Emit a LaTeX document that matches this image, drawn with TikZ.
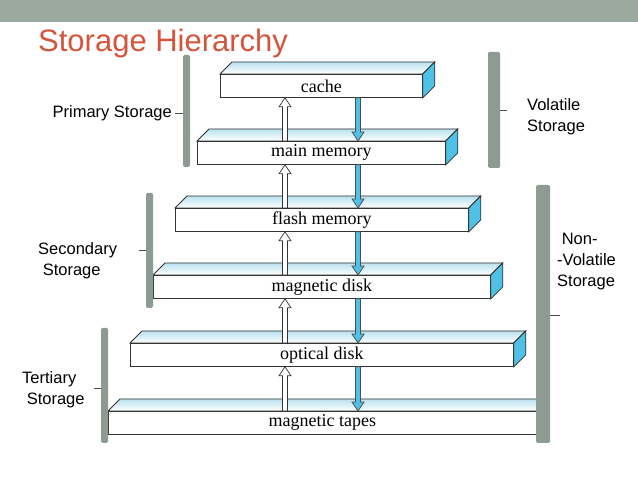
\documentclass[tikz,border=0pt]{standalone}
\usepackage{fontspec}
\setmainfont{Liberation Serif}
\newfontfamily\lab{Liberation Sans}
\usetikzlibrary{calc}
\definecolor{band}{HTML}{9AAA9F}
\definecolor{bar}{HTML}{8E9B92}
\definecolor{ttl}{HTML}{D5553B}
\definecolor{side}{HTML}{4FC0E6}
\definecolor{topc}{HTML}{B9E1EF}
\tikzset{
 box/.style={draw=black!80,fill=white,line width=0.8pt,inner sep=0pt,minimum height=23pt,font=\fontsize{18}{20}\selectfont},
 gbar/.style={fill=bar,draw=none,rounded corners=1.5pt},
 tick/.style={draw=black!70,line width=0.6pt},
 lbl/.style={font=\lab\fontsize{16.5}{21}\selectfont,align=left,inner sep=0pt},
 uparr/.style={draw=black!80,fill=white,line width=0.7pt},
 dnarr/.style={draw=black!70,fill=side,line width=0.7pt}
}
\newcommand\tierbox[5]{%
 \node[box,minimum width={(#3-#2)*1pt},anchor=north west] (#1) at (#2,#4) {#5};
 \shade[top color=topc,bottom color=white,draw=black!80,line width=0.8pt] (#1.north west) -- ++(12pt,12pt) -- ($(#1.north east)+(12pt,12pt)$) -- (#1.north east) -- cycle;
 \fill[side,draw=black!80,line width=0.8pt] (#1.north east) -- ++(12pt,12pt) -- ($(#1.south east)+(12pt,12pt)$) -- (#1.south east) -- cycle;
}
\newcommand\myuparr[2]{%
 \path[uparr] ($(#1)+(-2.5pt,0)$) -- ($(#2)+(-2.5pt,-9pt)$) -- ($(#2)+(-6pt,-9pt)$) -- (#2) -- ($(#2)+(6pt,-9pt)$) -- ($(#2)+(2.5pt,-9pt)$) -- ($(#1)+(2.5pt,0)$) -- cycle;}
\newcommand\mydnarr[2]{%
 \path[dnarr] ($(#1)+(-2.5pt,0)$) -- ($(#2)+(-2.5pt,9pt)$) -- ($(#2)+(-6pt,9pt)$) -- (#2) -- ($(#2)+(6pt,9pt)$) -- ($(#2)+(2.5pt,9pt)$) -- ($(#1)+(2.5pt,0)$) -- cycle;}
\begin{document}
\begin{tikzpicture}[x=1pt,y=-1pt]
\useasboundingbox (0,0) rectangle (638,478);
\fill[white] (0,0) rectangle (638,478);
\fill[band] (0,0) rectangle (638,22);
\node[anchor=base west,inner sep=0pt,text=ttl,font=\lab\fontsize{31}{34}\selectfont] (title) at (38,52) {Storage Hierarchy};
\coordinate (xu) at (285,0);
\coordinate (xd) at (358,0);
\tierbox{tapes}{108}{536}{411}{magnetic tapes}
\tierbox{optical}{130}{513}{343}{optical disk}
\tierbox{mdisk}{153}{490}{275}{magnetic disk}
\tierbox{flash}{175}{468}{208}{flash memory}
\tierbox{main}{197}{445}{141}{main memory}
\tierbox{cache}{220}{422}{74}{cache}
\foreach \lo/\hi in {main/cache,flash/main,mdisk/flash,optical/mdisk,tapes/optical}{
 \myuparr{\lo.north -| xu}{\hi.south -| xu}
 \mydnarr{\hi.south -| xd}{\lo.north -| xd}
}
% brackets
\fill[gbar] (183,55) rectangle (190,167);
\coordinate (tp) at (175,113); \draw[tick] (tp) -- (183,113);
\node[lbl,anchor=east] (prim) at (172,113) {Primary Storage};
\fill[gbar] (488,52) rectangle (500,168);
\coordinate (tv) at (507,110); \draw[tick] (500,110) -- (tv);
\node[lbl,anchor=west] (vol) at (527,117) {Volatile\\Storage};
\fill[gbar] (146,193) rectangle (153,308);
\coordinate (ts) at (139,250); \draw[tick] (ts) -- (146,250);
\node[lbl,anchor=west] (sec) at (38,261) {Secondary\\\ Storage};
\fill[gbar] (101,328) rectangle (108,443);
\coordinate (tt) at (94,388); \draw[tick] (tt) -- (101,388);
\node[lbl,anchor=west] (ter) at (22,390) {Tertiary\\\ Storage};
\fill[gbar] (536,185) rectangle (550,443);
\coordinate (tn) at (560,315); \draw[tick] (550,315) -- (tn);
\node[lbl,anchor=west] (nvol) at (557,262) {\ Non-\\-Volatile\\Storage};
\end{tikzpicture}
\end{document}
